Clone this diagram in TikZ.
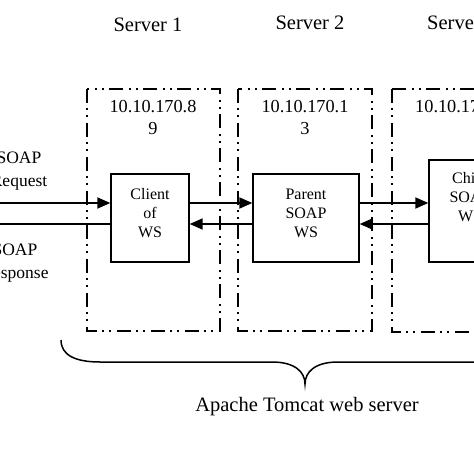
\documentclass[tikz,border=0pt]{standalone}
\usepackage{fontspec}
\setmainfont{Liberation Serif}
\usetikzlibrary{arrows.meta}
\begin{document}
\begin{tikzpicture}[x=1pt,y=-1pt,
  srvbox/.style={draw,line width=1.8pt,dash pattern=on 14pt off 5pt on 2pt off 5pt on 2pt off 6pt},
  wsbox/.style={draw,line width=1.4pt,inner sep=0pt},
  arr/.style={line width=1.9pt,-{Triangle[length=13pt,width=11pt]}},
  srvtxt/.style={font=\fontsize{20.5}{24}\selectfont},
  iptxt/.style={font=\fontsize{18.3}{22}\selectfont,align=center},
  wstxt/.style={font=\fontsize{16}{19}\selectfont,align=center,inner sep=0pt},
  soaptxt/.style={font=\fontsize{17.5}{23}\selectfont,align=center,inner sep=0pt}]
\useasboundingbox (0,0) rectangle (474,474);
\clip (0,0) rectangle (474,474);
\fill[white] (0,0) rectangle (474,474);
% server titles
\node[srvtxt] (s1) at (148,25) {Server 1};
\node[srvtxt] (s2) at (310,23) {Server 2};
\node[srvtxt,anchor=west,inner sep=0pt] (s3) at (427,23) {Server 3};
% server boxes
\draw[srvbox] (87,89) rectangle (220,331);
\draw[srvbox] (238,89) rectangle (372,331);
\draw[srvbox] (392,89) rectangle (530,332);
% ip addresses
\node[iptxt] (ip1) at (153,118) {10.10.170.8\\9};
\node[iptxt] (ip2) at (305,118) {10.10.170.1\\3};
\node[iptxt,anchor=west,inner sep=0pt] (ip3) at (415,107) {10.10.170};
% web service boxes
\node[wsbox,minimum width=78pt,minimum height=88pt] (cl) at (150,218) {};
\node[wstxt] (clt) at (150,213) {Client\\of\\WS};
\node[wsbox,minimum width=106pt,minimum height=88pt] (pa) at (306,218) {};
\node[wstxt] (pat) at (306,213) {Parent\\SOAP\\WS};
\node[wsbox,minimum width=86pt,minimum height=102pt] (ch) at (472,211) {};
\node[wstxt] (cht) at (470,197) {Child\\SOAP\\WS};
% soap labels
\node[soaptxt] (req) at (19,171) {SOAP\\Request};
\node[soaptxt] (res) at (15,263) {SOAP\\Response};
% connectors
\coordinate (u) at (0,203);
\coordinate (d) at (0,224);
\coordinate (reqin) at (-10,203);
\coordinate (resout) at (-30,224);
\draw[arr] (reqin) -- (cl.west |- u);
\draw[arr] (cl.west |- d) -- (resout);
\draw[arr] (cl.east |- u) -- (pa.west |- u);
\draw[arr] (pa.west |- d) -- (cl.east |- d);
\draw[arr] (pa.east |- u) -- (ch.west |- u);
\draw[arr] (ch.west |- d) -- (pa.east |- d);
% brace
\draw[line width=1.5pt] (61,340) .. controls (61,355) and (75,362) .. (100,362)
  -- (272,362) .. controls (295,362) and (305,372) .. (305,384)
  .. controls (305,372) and (315,362) .. (338,362) -- (530,362);
\node[srvtxt] (ap) at (307,407) {Apache Tomcat web server};
\end{tikzpicture}
\end{document}
